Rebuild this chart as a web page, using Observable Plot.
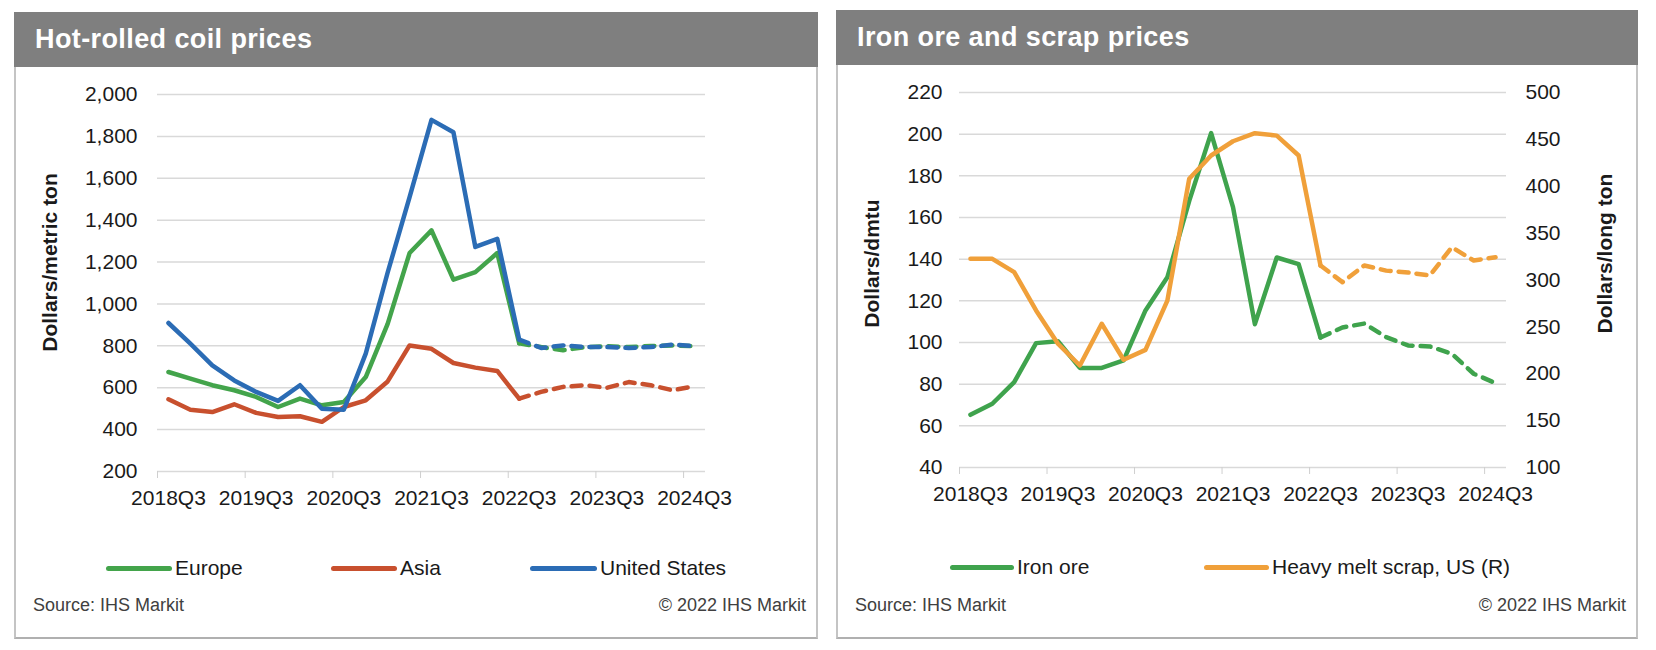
<!DOCTYPE html>
<html>
<head>
<meta charset="utf-8">
<script src="https://cdn.jsdelivr.net/npm/d3@7"></script>
<script src="https://cdn.jsdelivr.net/npm/@observablehq/plot@0.6"></script>
<style>
  body { margin: 0; background: #fff; font-family: "Liberation Sans", Arial, sans-serif; }
  #page { position: relative; width: 1656px; height: 650px; overflow: hidden; background: #fff; }
  .panel { position: absolute; box-sizing: border-box; border: 2px solid #c4c4c4; border-bottom-color: #b0b0b0; background: #fff; }
  .band { position: absolute; left: -2px; right: -2px; top: -2px; height: 55px; background: #7f7f7f; }
  .band span { position: absolute; left: 21px; top: 0; line-height: 55px; color: #fff; font-weight: bold; font-size: 27px; letter-spacing: 0.4px; white-space: nowrap; }
  .chart { position: absolute; }
  .leg { position: absolute; height: 24px; line-height: 24px; font-size: 21px; color: #1a1a1a; display: flex; align-items: center; white-space: nowrap; }
  .leg i { display: inline-block; width: 66px; height: 5px; border-radius: 3px; margin-right: 3px; }
  .src { position: absolute; height: 22px; line-height: 22px; font-size: 18px; color: #404040; white-space: nowrap; }
</style>
</head>
<body>
<div id="page">
  <div class="panel" style="left:14px;top:12px;width:804px;height:627px;">
    <div class="band"><span>Hot-rolled coil prices</span></div>
  </div>
  <div class="panel" style="left:836px;top:10px;width:802px;height:629px;">
    <div class="band"><span>Iron ore and scrap prices</span></div>
  </div>
  <div class="chart" id="hrc" style="left:15px;top:66px;"></div>
  <div class="chart" id="ore" style="left:837px;top:66px;"></div>

  <div class="leg" style="left:106px;top:556px;"><i style="background:#43a44b"></i>Europe</div>
  <div class="leg" style="left:331px;top:556px;"><i style="background:#c8502e"></i>Asia</div>
  <div class="leg" style="left:530px;top:556px;"><i style="background:#2b6cb5;width:67px"></i>United States</div>
  <div class="src" style="left:33px;top:594px;">Source: IHS Markit</div>
  <div class="src" style="right:850px;top:594px;">© 2022 IHS Markit</div>

  <div class="leg" style="left:950px;top:555px;"><i style="background:#3fa34d;width:64px"></i>Iron ore</div>
  <div class="leg" style="left:1204px;top:555px;"><i style="background:#f0a03a;width:65px"></i>Heavy melt scrap, US (R)</div>
  <div class="src" style="left:855px;top:594px;">Source: IHS Markit</div>
  <div class="src" style="right:30px;top:594px;">© 2022 IHS Markit</div>
</div>
<script>
const quarters = ["2018Q3","2018Q4","2019Q1","2019Q2","2019Q3","2019Q4","2020Q1","2020Q2","2020Q3","2020Q4",
  "2021Q1","2021Q2","2021Q3","2021Q4","2022Q1","2022Q2","2022Q3","2022Q4","2023Q1","2023Q2","2023Q3","2023Q4",
  "2024Q1","2024Q2","2024Q3"];
const labelIdx = [0, 4, 8, 12, 16, 20, 24];
const tickBounds = [-0.5, 3.5, 7.5, 11.5, 15.5, 19.5, 23.5];
const forecastStart = 16;

// Hot-rolled coil prices, $/metric ton
const europe = [675, 643, 612, 588, 556, 508, 548, 516, 532, 651, 905, 1243, 1351, 1116, 1152, 1243, 812, 794, 779, 794, 798, 794, 799, 802, 798];
const asia   = [545, 495, 484, 521, 480, 460, 464, 437, 508, 540, 630, 802, 786, 718, 696, 680, 548, 580, 604, 612, 600, 627, 612, 588, 607];
const us     = [909, 810, 707, 635, 580, 537, 612, 500, 495, 763, 1150, 1510, 1879, 1820, 1272, 1311, 830, 790, 802, 794, 794, 790, 794, 806, 798];
const hrcTicks = [200, 400, 600, 800, 1000, 1200, 1400, 1600, 1800, 2000];

// Iron ore ($/dmtu, left) and heavy melt scrap ($/long ton, right)
const ironOre = [65.3, 70.6, 81, 99.7, 100.6, 87.8, 87.8, 91.4, 115.4, 131.3, 168, 200.5, 165, 108.8, 140.8, 137.6, 102.4, 107.2, 109.1, 102.6, 98.6, 98.1, 94.6, 85, 80.5];
const scrap   = [322.6, 322.6, 308.4, 267.5, 232, 208.8, 253.3, 214.9, 225.5, 278, 408, 432.8, 448, 456.6, 454, 432.8, 315.5, 297.7, 315.5, 310, 308, 304.8, 335, 320.8, 324.3];
const oreTicks = [40, 60, 80, 100, 120, 140, 160, 180, 200, 220];
const scrapTicks = [100, 150, 200, 250, 300, 350, 400, 450, 500];

const FONT = "Liberation Sans, Arial, sans-serif";
const GRID = "#d9d9d9";
const INK = "#1a1a1a";

function seriesMarks(vals, color, map = v => v) {
  const data = vals.map((v, i) => ({i, v: map(v)}));
  const common = {x: "i", y: "v", stroke: color, strokeWidth: 4.5, strokeLinejoin: "round", strokeLinecap: "round"};
  return [
    Plot.lineY(data.filter(d => d.i <= forecastStart), common),
    Plot.lineY(data.filter(d => d.i >= forecastStart), {...common, strokeDasharray: "10,8"})
  ];
}

// Left chart
const hrc = Plot.plot({
  width: 800, height: 470,
  marginLeft: 142, marginRight: 110, marginTop: 28, marginBottom: 65,
  style: {fontFamily: FONT, fontSize: "21px", color: INK, background: "transparent", overflow: "visible"},
  x: {domain: [-0.5, 24.5], axis: null, label: null},
  y: {domain: [200, 2000], axis: null, label: null},
  marks: [
    Plot.ruleY(hrcTicks, {stroke: GRID, strokeWidth: 1.5}),
    Plot.axisX(tickBounds, {tickSize: 7, tickFormat: () => "", stroke: "#cfcfcf", label: null}),
    Plot.axisX(labelIdx, {tickSize: 0, tickPadding: 19, tickFormat: i => quarters[i], fontSize: 21, fill: INK, label: null}),
    Plot.axisY(hrcTicks, {tickSize: 0, tickPadding: 20, tickFormat: d3.format(","), fontSize: 21, fill: INK, label: null}),
    Plot.text(["Dollars/metric ton"], {text: d => d, frameAnchor: "left", textAnchor: "middle", lineAnchor: "middle", rotate: -90, dx: -107, dy: -20.5, fontWeight: "bold", fontSize: 21, fill: INK}),
    ...seriesMarks(europe, "#43a44b"),
    ...seriesMarks(asia, "#c8502e"),
    ...seriesMarks(us, "#2b6cb5")
  ]
});
document.getElementById("hrc").append(hrc);

// Right chart (scrap mapped onto left scale for secondary axis)
const toLeft = v => 40 + (v - 100) * 180 / 400;
const toRight = d => Math.round(100 + (d - 40) * 400 / 180);
const ore = Plot.plot({
  width: 800, height: 470,
  marginLeft: 122, marginRight: 131, marginTop: 26, marginBottom: 69,
  style: {fontFamily: FONT, fontSize: "21px", color: INK, background: "transparent", overflow: "visible"},
  x: {domain: [-0.5, 24.5], axis: null, label: null},
  y: {domain: [40, 220], axis: null, label: null},
  marks: [
    Plot.ruleY(oreTicks, {stroke: GRID, strokeWidth: 1.5}),
    Plot.axisX(tickBounds, {tickSize: 7, tickFormat: () => "", stroke: "#cfcfcf", label: null}),
    Plot.axisX(labelIdx, {tickSize: 0, tickPadding: 19, tickFormat: i => quarters[i], fontSize: 21, fill: INK, label: null}),
    Plot.axisY(oreTicks, {tickSize: 0, tickPadding: 17, fontSize: 21, fill: INK, label: null}),
    Plot.axisY(scrapTicks.map(toLeft), {anchor: "right", tickSize: 0, tickPadding: 19, tickFormat: toRight, fontSize: 21, fill: INK, label: null}),
    Plot.text(["Dollars/dmtu"], {text: d => d, frameAnchor: "left", textAnchor: "middle", lineAnchor: "middle", rotate: -90, dx: -87, dy: -16.5, fontWeight: "bold", fontSize: 21, fill: INK}),
    Plot.text(["Dollars/long ton"], {text: d => d, frameAnchor: "right", textAnchor: "middle", lineAnchor: "middle", rotate: -90, dx: 99, dy: -26.5, fontWeight: "bold", fontSize: 21, fill: INK}),
    ...seriesMarks(ironOre, "#3fa34d"),
    ...seriesMarks(scrap, "#f0a03a", toLeft)
  ]
});
document.getElementById("ore").append(ore);
</script>
</body>
</html>
